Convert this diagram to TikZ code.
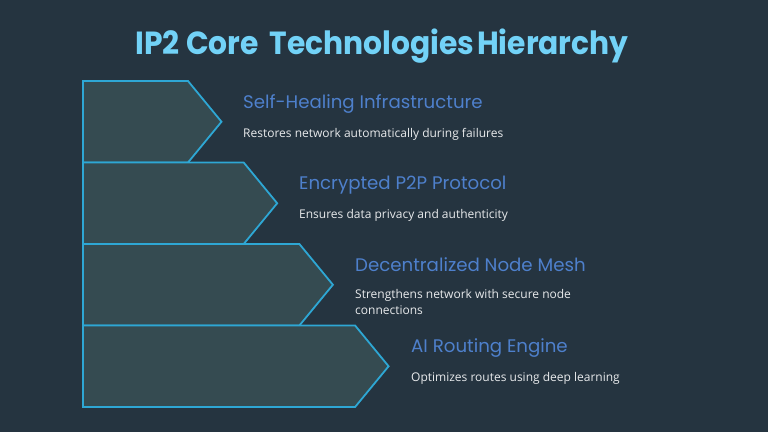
\documentclass[tikz,border=0pt]{standalone}
\usepackage{fontspec}
\setmainfont{Open Sans}
\newfontfamily\headfont{Poppins}
\usetikzlibrary{positioning}
\definecolor{bgcol}{HTML}{253440}
\definecolor{tierfill}{HTML}{354B51}
\definecolor{tierline}{HTML}{2EA7D4}
\definecolor{titlecol}{HTML}{72D2F7}
\definecolor{headcol}{HTML}{4E80CC}
\definecolor{desccol}{HTML}{E8EAEC}
\tikzstyle{tier}=[draw=tierline,fill=tierfill,line width=1.8pt,line join=miter]
\tikzstyle{head}=[anchor=base west,inner sep=0pt,text=headcol,font=\headfont\fontsize{18.2}{22}\selectfont]
\tikzstyle{desc}=[anchor=base west,inner sep=0pt,text=desccol,align=left,font=\fontsize{12}{16}\selectfont]
\tikzstyle{titletext}=[inner sep=0pt,text=titlecol,font=\headfont\bfseries\fontsize{32}{36}\selectfont]

\begin{document}
\begin{tikzpicture}[x=1pt,y=-1pt]
    \fill[bgcol] (0,0) rectangle (768,432);
    \useasboundingbox (0,0) rectangle (768,432);

    % title
    \node[titletext] (title) at (382,46)
        {\scalebox{0.93}[1]{IP2 Core\hspace{0.15em} Technologies\hspace{0.1em}Hierarchy}};

    % tiers
    \foreach \i/\yt in {1/81,2/162.5,3/244,4/325.5} {
        \pgfmathsetmacro{\xr}{188 + (\i-1)*55.7}
        \coordinate (tl\i) at (83,\yt);
        \coordinate (tr\i) at (\xr,\yt);
        \coordinate (tp\i) at (\xr+33.5,\yt+40.75);
        \coordinate (br\i) at (\xr,\yt+81.5);
        \coordinate (bl\i) at (83,\yt+81.5);
        \draw[tier] (tl\i) -- (tr\i) -- (tp\i) -- (br\i) -- (bl\i) -- cycle;
    };

    % labels
    \node[head] (h1) at (243,108.3) {Self-Healing Infrastructure};
    \node[desc] (d1) at (243,137.3) {Restores network automatically during failures};
    \node[head] (h2) at (299,189.5) {Encrypted P2P Protocol};
    \node[desc] (d2) at (299,218.5) {Ensures data privacy and authenticity};
    \node[head] (h3) at (355,271) {Decentralized Node Mesh};
    \node[desc] (d3) at (355,298) {Strengthens network with secure node};
    \node[desc] (d3b) at (355,314) {connections};
    \node[head] (h4) at (411,352.5) {AI Routing Engine};
    \node[desc] (d4) at (411,381.5) {Optimizes routes using deep learning};
\end{tikzpicture}
\end{document}
